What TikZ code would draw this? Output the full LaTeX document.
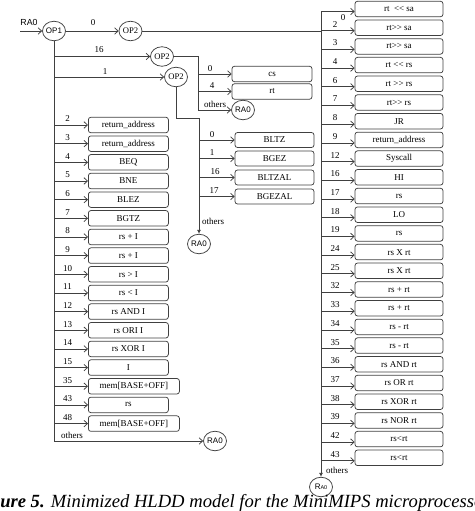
\documentclass[tikz,border=0pt]{standalone}
\usepackage{fontspec}
\newfontfamily\tms{Liberation Serif}
\newfontfamily\arl{Liberation Sans}
\usetikzlibrary{arrows.meta,shapes.geometric}
\definecolor{ln}{gray}{0.25}
\begin{document}
\begin{tikzpicture}[x=1pt,y=-1pt,line width=0.75pt,
  box/.style={draw=ln, rounded corners=2.5pt, minimum height=15.5pt, inner sep=0pt, font=\tms\fontsize{9}{10}\selectfont},
  circ/.style={draw=ln, ellipse, minimum width=23pt, minimum height=19.5pt, inner sep=0pt, font=\arl\fontsize{8}{9}\selectfont},
  circs/.style={circ, font=\tms\fontsize{8.6}{9}\selectfont},
  lbl/.style={inner sep=0pt, font=\tms\fontsize{9}{10}\selectfont},
  arr/.style={draw=ln, -{Straight Barb[length=3.5pt,width=6.5pt,line width=0.75pt]}},
  varr/.style={draw=ln, -{Latex[length=4pt,width=4pt]}},
  wire/.style={draw=ln}]
\useasboundingbox (0,0) rectangle (474,511);
\clip (0,0) rectangle (474,511);

% ---- top: entry and OP1
\node[circ] (op1) at (54,31) {OP1};
\node[lbl, font=\arl\fontsize{8.8}{9}\selectfont] (ralbl) at (29,22) {RA0};
\coordinate (rin) at (20,31);
\draw[arr] (rin) -- (op1);
\node[circs] (o2a) at (130.5,31) {OP2};
\draw[arr] (op1) -- (o2a);
\node[lbl] (l0a) at (93,23) {0};

% ---- right column
\node[box, minimum width=88pt] (r0) at (399,9) {rt\ \ << sa};
\coordinate (rb0) at (321,11.5);
\draw[arr] (rb0) -- (r0.west |- rb0);
\node[lbl] (rl0) at (343,18) {0};
\foreach \t/\l [count=\i from 1] in {rt>> sa/2, rt>> sa/3, rt << rs/4, rt >> rs/6, rt>> rs/7, JR/8,
  return\_address/9, Syscall/12, HI/16, rs/17, LO/18, rs/19, rs X rt/24, rs X rt/25,
  rs + rt/32, rs + rt/33, rs - rt/34, rs - rt/35, rs AND rt/36, rs OR rt/37, rs XOR rt/38,
  rs NOR rt/39, rs<rt/42, rs<rt/43} {
  \pgfmathsetmacro\yy{9+18.7*\i}
  \node[box, minimum width=88pt] (r\i) at (399,\yy) {\t};
  \coordinate (rb\i) at (321,\yy+3);
  \draw[arr] (rb\i) -- (r\i.west |- rb\i);
  \node[lbl] (rl\i) at (335,\yy-3.5) {\l};
}
\draw[wire] (o2a) -- (o2a -| rb0);
\node[circ] (ra0d) at (321,487) {R{\fontsize{5.5}{6}\selectfont A0}};
\draw[varr] (rb0) -- (ra0d);
\node[lbl] (rot) at (337,470) {others};

% ---- left column
\foreach \t/\l/\w [count=\i from 0] in {return\_address/2/80, return\_address/3/80, BEQ/4/80, BNE/5/80,
  BLEZ/6/80, BGTZ/7/80, rs + I/8/80, rs + I/9/80, rs > I/10/80, rs < I/11/80, rs AND I/12/80,
  rs ORI I/13/80, rs XOR I/14/80, I/15/80, mem[BASE+OFF]/35/91, rs/43/80, mem[BASE+OFF]/48/91} {
  \pgfmathsetmacro\yy{125+18.66*\i}
  \node[box, anchor=west, minimum width=\w pt] (lx\i) at (88,\yy) {\t};
  \coordinate (lb\i) at (54,\yy);
  \draw[arr] (lb\i) -- (lx\i.west);
  \node[lbl] (ll\i) at (67.5,\yy-6) {\l};
}
\coordinate (lbend) at (54,441);
\node[circ] (ra0c) at (215,441) {RA0};
\draw[wire] (op1.south) -- (lbend);
\draw[arr] (lbend) -- (ra0c);
\node[lbl] (lot) at (72,435.5) {others};

% ---- OP2 branches
\node[circs] (o2b) at (162,56.5) {OP2};
\node[circs] (o2c) at (176,77) {OP2};
\draw[arr] (op1 |- o2b) -- (o2b);
\draw[arr] (op1 |- o2c) -- (o2c);
\node[lbl] (l16) at (99,49.5) {16};
\node[lbl] (l1) at (105,71.5) {1};

% OP2 (16) sub-branch
\coordinate (m1a) at (198,56.5);
\coordinate (m1b) at (198,110);
\node[box, minimum width=80pt] (cs) at (272,74) {cs};
\node[box, minimum width=80pt] (rt) at (272,91.5) {rt};
\node[circ] (ra0b) at (243,110) {RA0};
\draw[wire] (o2b) -- (m1a) -- (m1b);
\draw[arr] (m1a |- cs) -- (cs.west);
\draw[arr] (m1a |- rt) -- (rt.west);
\draw[arr] (m1b) -- (ra0b);
\node[lbl] (lm0) at (210,68.5) {0};
\node[lbl] (lm4) at (212,86) {4};
\node[lbl] (lmo) at (215,104) {others};

% OP2 (1) sub-branch
\coordinate (m2b) at (199,118);
\node[box, minimum width=79pt, minimum height=15pt] (b1) at (274.5,140) {BLTZ};
\node[box, minimum width=79pt, minimum height=15pt] (b2) at (274.5,158.5) {BGEZ};
\node[box, minimum width=79pt, minimum height=15pt] (b3) at (274.5,177.5) {BLTZAL};
\node[box, minimum width=79pt, minimum height=15pt] (b4) at (274.5,196.5) {BGEZAL};
\node[circ] (ra0e) at (199,244) {RA0};
\draw[wire] (o2c.south) -- (o2c |- m2b) -- (m2b);
\draw[varr] (m2b) -- (ra0e);
\foreach \k in {1,2,3,4} {
  \draw[arr] (m2b |- b\k) -- (b\k.west);
}
\node[lbl] (lb0n) at (212,134.5) {0};
\node[lbl] (lb1n) at (212,153) {1};
\node[lbl] (lb16n) at (215,172) {16};
\node[lbl] (lb17n) at (214,191) {17};
\node[lbl] (lbot) at (213,221) {others};

% ---- caption (cut by the frame, as in the reference)
\node[anchor=base west, inner sep=0pt, font=\tms\fontsize{18.6}{20}\selectfont\itshape] (cap) at (-27,507)
  {{\bfseries Figure 5.} Minimized HLDD model for the MiniMIPS microprocessor};
\end{tikzpicture}
\end{document}
